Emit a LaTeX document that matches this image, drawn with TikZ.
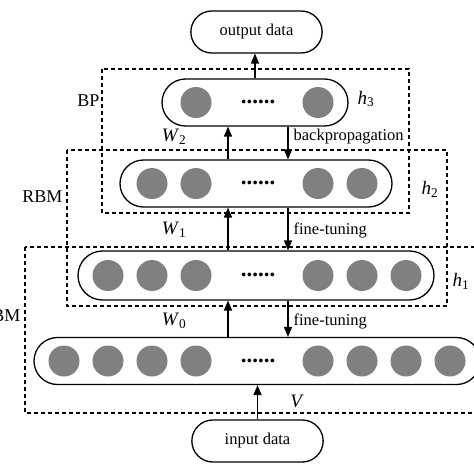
\documentclass[tikz,border=0pt]{standalone}
\usepackage{fontspec}
\setmainfont{Liberation Serif}
\usepackage{tikz}
\tikzset{every picture/.style={line width=1.3pt}}
\definecolor{unitgray}{RGB}{128,128,128}
\tikzset{layer/.style={draw, rounded rectangle, minimum height=47pt, inner sep=0pt}}
\tikzset{io/.style={draw, rounded rectangle, minimum height=42pt, minimum width=138pt, font=\fontsize{16.5}{20}\selectfont}}
\tikzset{unit/.style={circle, fill=unitgray, minimum size=31pt, inner sep=0pt}}
\tikzset{dots/.style={anchor=base, inner sep=0pt, font=\fontsize{23}{24}\selectfont\bfseries}}
\tikzset{group/.style={draw, dash pattern=on 4pt off 3pt, line width=1.2pt}}
\tikzset{tag/.style={anchor=east, inner sep=0pt, font=\fontsize{18}{20}\selectfont}}
\tikzset{lbl/.style={anchor=west, inner sep=0pt, font=\fontsize{16.5}{20}\selectfont}}
\tikzset{var/.style={inner sep=0pt, font=\fontsize{19}{20}\selectfont}}
\usetikzlibrary{arrows,shapes.misc}

\begin{document}
\begin{tikzpicture}[x=1pt, y=-1pt]
\useasboundingbox (0,0) rectangle (474,474);
\clip (0,0) rectangle (474,474);
% dashed groups
\draw[group] (102,69) rectangle (409,213);
\draw[group] (67,150) rectangle (447,306);
\draw[group] (25,247) rectangle (490,413);
\node[tag] (bp) at (100,101) {BP};
\node[tag] (rbm2) at (63,197) {RBM};
\node[tag] (rbm1) at (21,316) {RBM};
% layers
\node[layer, minimum width=186pt] (L3) at (255,102.5) {};
\node[layer, minimum width=272pt] (L2) at (256,183.5) {};
\node[layer, minimum width=356pt, minimum height=49pt] (L1) at (256,275.5) {};
\node[layer, minimum width=446pt] (L0) at (257,361) {};
\foreach \lay/\n/\y in {L3/1/102.5, L2/2/183.5, L1/3/275.5, L0/4/361} {
    \foreach \i in {1,...,\n} {
        \pgfmathsetmacro{\xl}{196 - 44*(\i - 1)}
        \pgfmathsetmacro{\xr}{318 + 44*(\i - 1)}
        \node[unit] (\lay-l\i) at (\xl,\y) {};
        \node[unit] (\lay-r\i) at (\xr,\y) {};
    }
    \node[dots] (\lay-d) at (258,{\y+1}) {......};
}
% input and output
\node[io] (out) at (256.5,32) {output data};
\node[io] (in) at (257.5,441) {input data};
\draw[-triangle 45] (L3.north) -- (L3.north |- out.south);
\draw[-triangle 45] (in.north) -- (in.north |- L0.south);
% up and down between layers
\coordinate (up) at (228,0);
\coordinate (down) at (288,0);
\foreach \lo/\hi in {L0/L1, L1/L2, L2/L3} {
    \draw[-triangle 45] (\lo.north -| up) -- (\hi.south -| up);
    \draw[-triangle 45] (\hi.south -| down) -- (\lo.north -| down);
}
% labels
\node[var] (w2) at (174,137) {\textit{W}\textsubscript{2}};
\node[var] (w1) at (174,230) {\textit{W}\textsubscript{1}};
\node[var] (w0) at (174,321) {\textit{W}\textsubscript{0}};
\node[var] (h3) at (366,99) {\textit{h}\textsubscript{3}};
\node[var] (h2) at (430,189) {\textit{h}\textsubscript{2}};
\node[var] (h1) at (461,281) {\textit{h}\textsubscript{1}};
\node[var] (v) at (297,401) {\textit{V}};
\node[lbl] (bprop) at (293,137) {backpropagation};
\node[lbl] (ft2) at (293,230) {fine-tuning};
\node[lbl] (ft1) at (293,321) {fine-tuning};
\end{tikzpicture}
\end{document}
